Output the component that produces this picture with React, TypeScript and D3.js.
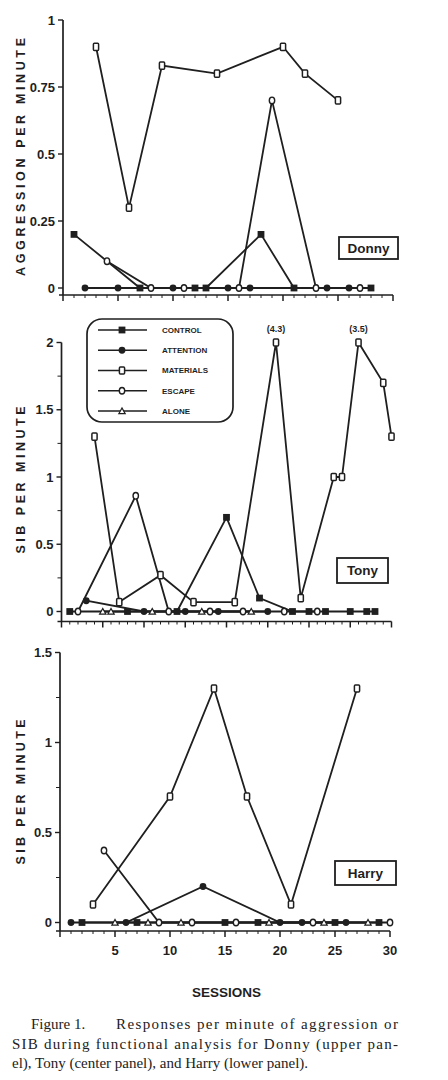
import React from "react";
import * as d3 from "d3";

type Pt = [number, number];
type Kind = "control" | "attention" | "materials" | "escape" | "alone";

// Donny - aggression per minute
const donnyControl: Pt[] = [[1, 0.2], [7, 0], [12, 0], [13, 0], [18, 0.2], [21, 0], [28, 0]];
const donnyAttention: Pt[] = [[2, 0], [5, 0], [10, 0], [15, 0], [17, 0], [24, 0], [26, 0]];
const donnyMaterials: Pt[] = [[3, 0.9], [6, 0.3], [9, 0.83], [14, 0.8], [20, 0.9], [22, 0.8], [25, 0.7]];
const donnyEscape: Pt[] = [[4, 0.1], [8, 0], [11, 0], [16, 0], [19, 0.7], [23, 0], [27, 0]];

// Tony - SIB per minute
const tonyControl: Pt[] = [[1, 0], [8, 0], [14, 0], [20, 0.7], [24, 0.1], [28, 0], [30, 0], [32, 0], [35, 0], [37, 0], [38, 0]];
const tonyAttention: Pt[] = [[3, 0.08], [10, 0], [15, 0], [19, 0], [25, 0]];
const tonyMaterials: Pt[] = [[4, 1.3], [7, 0.07], [12, 0.27], [16, 0.07], [21, 0.07], [26, 2], [29, 0.1], [33, 1], [34, 1], [36, 2], [39, 1.7], [40, 1.3]];
const tonyEscape: Pt[] = [[2, 0], [9, 0.86], [13, 0], [18, 0], [22, 0], [27, 0], [31, 0]];
const tonyAlone: Pt[] = [[5, 0], [6, 0], [11, 0], [17, 0], [23, 0]];
const tonyNotes: { s: number; v: number; text: string }[] = [
  { s: 26, v: 2, text: "(4.3)" },
  { s: 36, v: 2, text: "(3.5)" },
];

// Harry - SIB per minute
const harryControl: Pt[] = [[2, 0], [7, 0], [15, 0], [18, 0], [25, 0], [29, 0]];
const harryAttention: Pt[] = [[1, 0], [6, 0], [13, 0.2], [20, 0], [22, 0], [26, 0]];
const harryMaterials: Pt[] = [[3, 0.1], [10, 0.7], [14, 1.3], [17, 0.7], [21, 0.1], [27, 1.3]];
const harryEscape: Pt[] = [[4, 0.4], [9, 0], [12, 0], [16, 0], [23, 0], [30, 0]];
const harryAlone: Pt[] = [[5, 0], [8, 0], [11, 0], [19, 0], [24, 0], [28, 0]];

const legendKinds: Kind[] = ["control", "attention", "materials", "escape", "alone"];
const legendLabels = ["CONTROL", "ATTENTION", "MATERIALS", "ESCAPE", "ALONE"];

const sessionTickLabels = [5, 10, 15, 20, 25, 30];

const INK = "#1f1f1f";
const SANS = "'Liberation Sans', Arial, sans-serif";
const SERIF = "'Liberation Serif', 'Times New Roman', serif";

function Marker({ kind, x, y }: { kind: Kind; x: number; y: number }) {
  switch (kind) {
    case "control":
      return <rect x={x - 3.4} y={y - 3.4} width={6.8} height={6.8} fill={INK} />;
    case "attention":
      return <circle cx={x} cy={y} r={3.4} fill={INK} />;
    case "materials":
      return (
        <rect x={x - 2.6} y={y - 3.6} width={5.2} height={7.2} rx={1} fill="#fff" stroke={INK} strokeWidth={1.5} />
      );
    case "escape":
      return <ellipse cx={x} cy={y} rx={2.7} ry={3.3} fill="#fff" stroke={INK} strokeWidth={1.4} />;
    case "alone":
      return (
        <path d={`M${x - 3.2},${y + 2.7}L${x},${y - 3.1}L${x + 3.2},${y + 2.7}Z`} fill="#fff" stroke={INK} strokeWidth={1.2} />
      );
  }
}

interface Series {
  kind: Kind;
  data: Pt[];
}

interface PanelProps {
  axisX: number;
  xEnd: number;
  xMax: number;
  yZero: number;
  yTop: number;
  yMax: number;
  axisY: number;
  yTicks: number[];
  yMinor: number[];
  series: Series[];
  name: string;
  nameBox: [number, number, number, number];
  yLabel: string;
  yLabelCenter: number;
  yLabelLength: number;
  showXLabels?: boolean;
  notes?: { s: number; v: number; text: string }[];
}

function Panel(p: PanelProps) {
  const x = d3.scaleLinear().domain([0, p.xMax]).range([p.axisX, p.xEnd]);
  const y = d3.scaleLinear().domain([0, p.yMax]).range([p.yZero, p.yTop]);
  const line = d3
    .line<Pt>()
    .x((d) => x(d[0]))
    .y((d) => y(d[1]));
  const xTicks = d3.range(0, p.xMax + 1);
  const [bx, by, bw, bh] = p.nameBox;

  return (
    <g>
      {/* axes */}
      <line x1={p.axisX} x2={p.axisX} y1={y(p.yMax)} y2={p.axisY} stroke={INK} strokeWidth={1.7} />
      <line x1={p.axisX - 4} x2={p.xEnd} y1={p.axisY} y2={p.axisY} stroke={INK} strokeWidth={1.7} />
      {xTicks.map((t) => (
        <line
          key={"xt" + t}
          x1={x(t)}
          x2={x(t)}
          y1={p.axisY}
          y2={p.axisY + (t % 5 === 0 ? 6 : 3)}
          stroke={INK}
          strokeWidth={t % 5 === 0 ? 1.5 : 1}
        />
      ))}
      {p.yTicks.map((t) => (
        <g key={"yt" + t}>
          <line x1={p.axisX - 5} x2={p.axisX} y1={y(t)} y2={y(t)} stroke={INK} strokeWidth={1.4} />
          <text
            x={p.axisX - 8}
            y={y(t)}
            dy="0.36em"
            textAnchor="end"
            fontFamily={SANS}
            fontWeight="bold"
            fontSize={13}
            fill={INK}
          >
            {String(t)}
          </text>
        </g>
      ))}
      {p.yMinor.map((t) => (
        <line key={"ym" + t} x1={p.axisX - 4} x2={p.axisX} y1={y(t)} y2={y(t)} stroke={INK} strokeWidth={1} />
      ))}
      {p.showXLabels &&
        sessionTickLabels.map((t) => (
          <text
            key={"xl" + t}
            x={x(t)}
            y={p.axisY + 24}
            textAnchor="middle"
            fontFamily={SANS}
            fontWeight="bold"
            fontSize={13}
            fill={INK}
          >
            {t}
          </text>
        ))}
      <text
        transform={`translate(${20},${p.yLabelCenter}) rotate(-90)`}
        textAnchor="middle"
        dy="0.36em"
        fontFamily={SANS}
        fontWeight="bold"
        fontSize={12.5}
        fill={INK}
        textLength={p.yLabelLength}
        lengthAdjust="spacing"
      >
        {p.yLabel}
      </text>

      {/* series lines */}
      {p.series.map((s) => (
        <path key={"l" + s.kind} d={line(s.data) ?? ""} fill="none" stroke={INK} strokeWidth={1.8} />
      ))}
      {p.series.map((s) =>
        s.data.map((d, i) => <Marker key={s.kind + i} kind={s.kind} x={x(d[0])} y={y(d[1])} />)
      )}

      {p.notes?.map((n) => (
        <text
          key={n.text}
          x={x(n.s)}
          y={y(n.v) - 11}
          textAnchor="middle"
          fontFamily={SANS}
          fontWeight="bold"
          fontSize={9}
          fill={INK}
        >
          {n.text}
        </text>
      ))}

      <rect x={bx} y={by} width={bw} height={bh} fill="#fff" stroke={INK} strokeWidth={1.8} />
      <text
        x={bx + bw / 2}
        y={by + bh / 2}
        dy="0.36em"
        textAnchor="middle"
        fontFamily={SANS}
        fontWeight="bold"
        fontSize={13.5}
        fill={INK}
      >
        {p.name}
      </text>
    </g>
  );
}

function Legend() {
  const rows = d3.scaleLinear().domain([0, 4]).range([330, 411]);
  return (
    <g>
      <rect x={87} y={319} width={146} height={103} rx={15} fill="#fff" stroke={INK} strokeWidth={1.7} />
      {legendKinds.map((k, i) => (
        <g key={k}>
          <line x1={98} x2={147} y1={rows(i)} y2={rows(i)} stroke={INK} strokeWidth={1.7} />
          <Marker kind={k} x={122} y={rows(i)} />
          <text
            x={162}
            y={rows(i)}
            dy="0.36em"
            fontFamily={SANS}
            fontWeight="bold"
            fontSize={8}
            fill={INK}
          >
            {legendLabels[i]}
          </text>
        </g>
      ))}
    </g>
  );
}

export default function App() {
  return (
    <svg
      width={448}
      height={1080}
      style={{ position: "absolute", left: 0, top: 0, display: "block", background: "#fff" }}
    >
      <Panel
        axisX={63}
        xEnd={393}
        xMax={30}
        yZero={288}
        yTop={20}
        yMax={1}
        axisY={295}
        yTicks={[0, 0.25, 0.5, 0.75, 1]}
        yMinor={[]}
        series={[
          { kind: "materials", data: donnyMaterials },
          { kind: "escape", data: donnyEscape },
          { kind: "control", data: donnyControl },
          { kind: "attention", data: donnyAttention },
        ]}
        name="Donny"
        nameBox={[339, 237, 59, 22]}
        yLabel="AGGRESSION PER MINUTE"
        yLabelCenter={157}
        yLabelLength={238}
      />
      <Panel
        axisX={61.5}
        xEnd={391.5}
        xMax={40}
        yZero={611.5}
        yTop={342.5}
        yMax={2}
        axisY={621.5}
        yTicks={[0, 0.5, 1, 1.5, 2]}
        yMinor={[0.25, 0.75, 1.25, 1.75]}
        series={[
          { kind: "materials", data: tonyMaterials },
          { kind: "escape", data: tonyEscape },
          { kind: "control", data: tonyControl },
          { kind: "attention", data: tonyAttention },
          { kind: "alone", data: tonyAlone },
        ]}
        name="Tony"
        nameBox={[337, 558, 51, 25]}
        yLabel="SIB PER MINUTE"
        yLabelCenter={480}
        yLabelLength={147}
        notes={tonyNotes}
      />
      <Legend />
      <Panel
        axisX={60}
        xEnd={390}
        xMax={30}
        yZero={922.5}
        yTop={652.5}
        yMax={1.5}
        axisY={931}
        yTicks={[0, 0.5, 1, 1.5]}
        yMinor={[0.25, 0.75, 1.25]}
        series={[
          { kind: "materials", data: harryMaterials },
          { kind: "escape", data: harryEscape },
          { kind: "control", data: harryControl },
          { kind: "attention", data: harryAttention },
          { kind: "alone", data: harryAlone },
        ]}
        name="Harry"
        nameBox={[335, 861, 61, 24]}
        yLabel="SIB PER MINUTE"
        yLabelCenter={792}
        yLabelLength={145}
        showXLabels
      />
      <text x={226.5} y={997} textAnchor="middle" fontFamily={SANS} fontWeight="bold" fontSize={13.5} fill={INK}>
        SESSIONS
      </text>
      <g fontFamily={SERIF} fontSize={15} fill="#222">
        <text x={31} y={1029}>
          Figure 1.
        </text>
        <text x={116} y={1029} textLength={282} lengthAdjust="spacing">
          Responses per minute of aggression or
        </text>
        <text x={12} y={1048.5} textLength={386} lengthAdjust="spacing">
          SIB during functional analysis for Donny (upper pan-
        </text>
        <text x={12} y={1067.5}>
          el), Tony (center panel), and Harry (lower panel).
        </text>
      </g>
    </svg>
  );
}
